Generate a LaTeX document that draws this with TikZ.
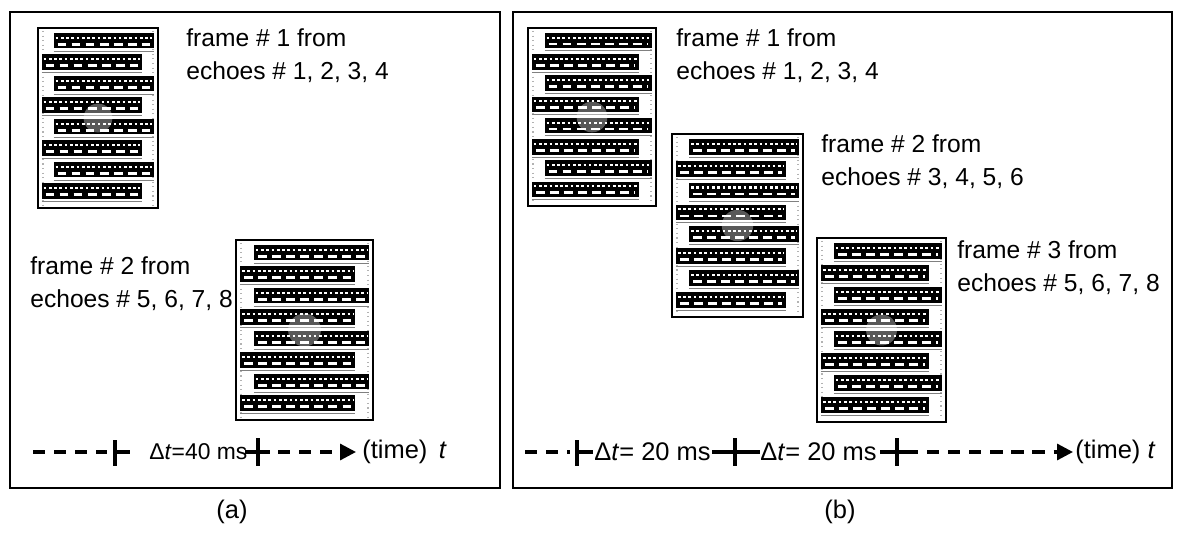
\documentclass[tikz,border=0pt]{standalone}
\usepackage{fontspec}
\setmainfont{Liberation Sans}
\usetikzlibrary{arrows.meta}
\begin{document}
\begin{tikzpicture}[x=0.02cm,y=-0.02cm,
  panel/.style={draw,line width=1.6pt},
  lbl/.style={font=\fontsize{14}{19}\selectfont,align=left,anchor=north west,inner sep=0pt},
  captxt/.style={font=\fontsize{14.5}{16}\selectfont},
  dsh/.style={line width=1.8pt,dash pattern=on 7pt off 5pt},
  tl/.style={line width=1.8pt}]
\useasboundingbox (0,0) rectangle (1183,533);
\draw[panel] (10,12) rectangle (500,488);
\draw[panel] (513,12) rectangle (1172,488);
\node[captxt] (ca) at (232,512) {(a)};
\node[captxt] (cb) at (840,512) {(b)};
\newcommand{\fimg}[5]{% name x1 y1 x2 y2
  \coordinate (#1) at (#2,#3);
  \draw[line width=1.6pt] (#2,#3) rectangle (#4,#5);
  \draw[gray!60,line width=0.6pt,dotted] (#2+5,#3+3) -- (#2+5,#5-3);
  \draw[gray!60,line width=0.6pt,dotted] (#4-5,#3+3) -- (#4-5,#5-3);
  \foreach \i in {0,...,7}{
    \pgfmathsetmacro{\yy}{#3+5+\i*(#5-#3-8)/8}
    \pgfmathsetmacro{\hh}{(#5-#3-8)/8*0.72}
    \pgfmathsetmacro{\xa}{mod(\i,2)==0 ? #2+0.13*(#4-#2) : #2+0.03*(#4-#2)}
    \pgfmathsetmacro{\xb}{mod(\i,2)==0 ? #4-0.03*(#4-#2) : #4-0.13*(#4-#2)}
    \fill[black] (\xa,\yy) rectangle (\xb,\yy+\hh);
    \draw[white,line width=1.2pt,dash pattern=on 1.5pt off 1.5pt] (\xa+2,\yy+\hh*0.3) -- (\xb-2,\yy+\hh*0.3);
    \draw[white,line width=1.6pt,dash pattern=on 5pt off 3pt] (\xa+4,\yy+\hh*0.72) -- (\xb-4,\yy+\hh*0.72);
    \draw[gray,line width=0.5pt] (\xa,\yy+\hh+2.5) -- (\xb,\yy+\hh+2.5);
  }
  \fill[white,opacity=0.35] (#2*0.5+#4*0.5,#3*0.5+#5*0.5) circle ({(#4-#2)*0.12});
}
\fimg{fa1}{38}{28}{158}{208}
\fimg{fa2}{236}{240}{373}{420}
\fimg{fb1}{528}{28}{656}{206}
\fimg{fb2}{672}{134}{803}{317}
\fimg{fb3}{817}{238}{946}{422}
\node[lbl] (ta1) at (186,28) {frame \# 1 from\\echoes \# 1, 2, 3, 4};
\node[lbl] (ta2) at (30,256) {frame \# 2 from\\echoes \# 5, 6, 7, 8};
\node[lbl] (tb1) at (676,28) {frame \# 1 from\\echoes \# 1, 2, 3, 4};
\node[lbl] (tb2) at (821,134) {frame \# 2 from\\echoes \# 3, 4, 5, 6};
\node[lbl] (tb3) at (957,240) {frame \# 3 from\\echoes \# 5, 6, 7, 8};
% timeline (a)
\draw[dsh] (33,452) -- (107,452);
\draw[tl] (115,440) -- (115,466); \draw[tl] (115,452) -- (130,452);
\node[captxt,anchor=west,inner sep=0pt,font=\fontsize{13}{16}\selectfont] (da) at (149,452) {Δ\textit{t}=40 ms};
\draw[tl] (258,438) -- (258,466); \draw[tl] (245,452) -- (270,452);
\draw[dsh] (278,452) -- (340,452);
\draw[tl,-{Triangle[length=9pt,width=9pt]}] (340,452) -- (356,452);
\node[captxt,anchor=west,inner sep=0pt] (tta) at (362,452) {(time)\, \textit{t}};
% timeline (b)
\draw[dsh] (525,452) -- (570,452);
\draw[tl] (577,440) -- (577,466); \draw[tl] (577,452) -- (593,452);
\node[captxt,anchor=west,inner sep=0pt] (db1) at (594,452) {Δ\textit{t}= 20 ms};
\draw[tl] (712,452) -- (760,452); \draw[tl] (735,438) -- (735,466);
\node[captxt,anchor=west,inner sep=0pt] (db2) at (760,452) {Δ\textit{t}= 20 ms};
\draw[tl] (880,452) -- (918,452); \draw[tl] (897,438) -- (897,466);
\draw[dsh] (927,452) -- (1060,452);
\draw[tl,-{Triangle[length=9pt,width=9pt]}] (1056,452) -- (1073,452);
\node[captxt,anchor=west,inner sep=0pt] (ttb) at (1075,452) {(time) \textit{t}};
\end{tikzpicture}
\end{document}
